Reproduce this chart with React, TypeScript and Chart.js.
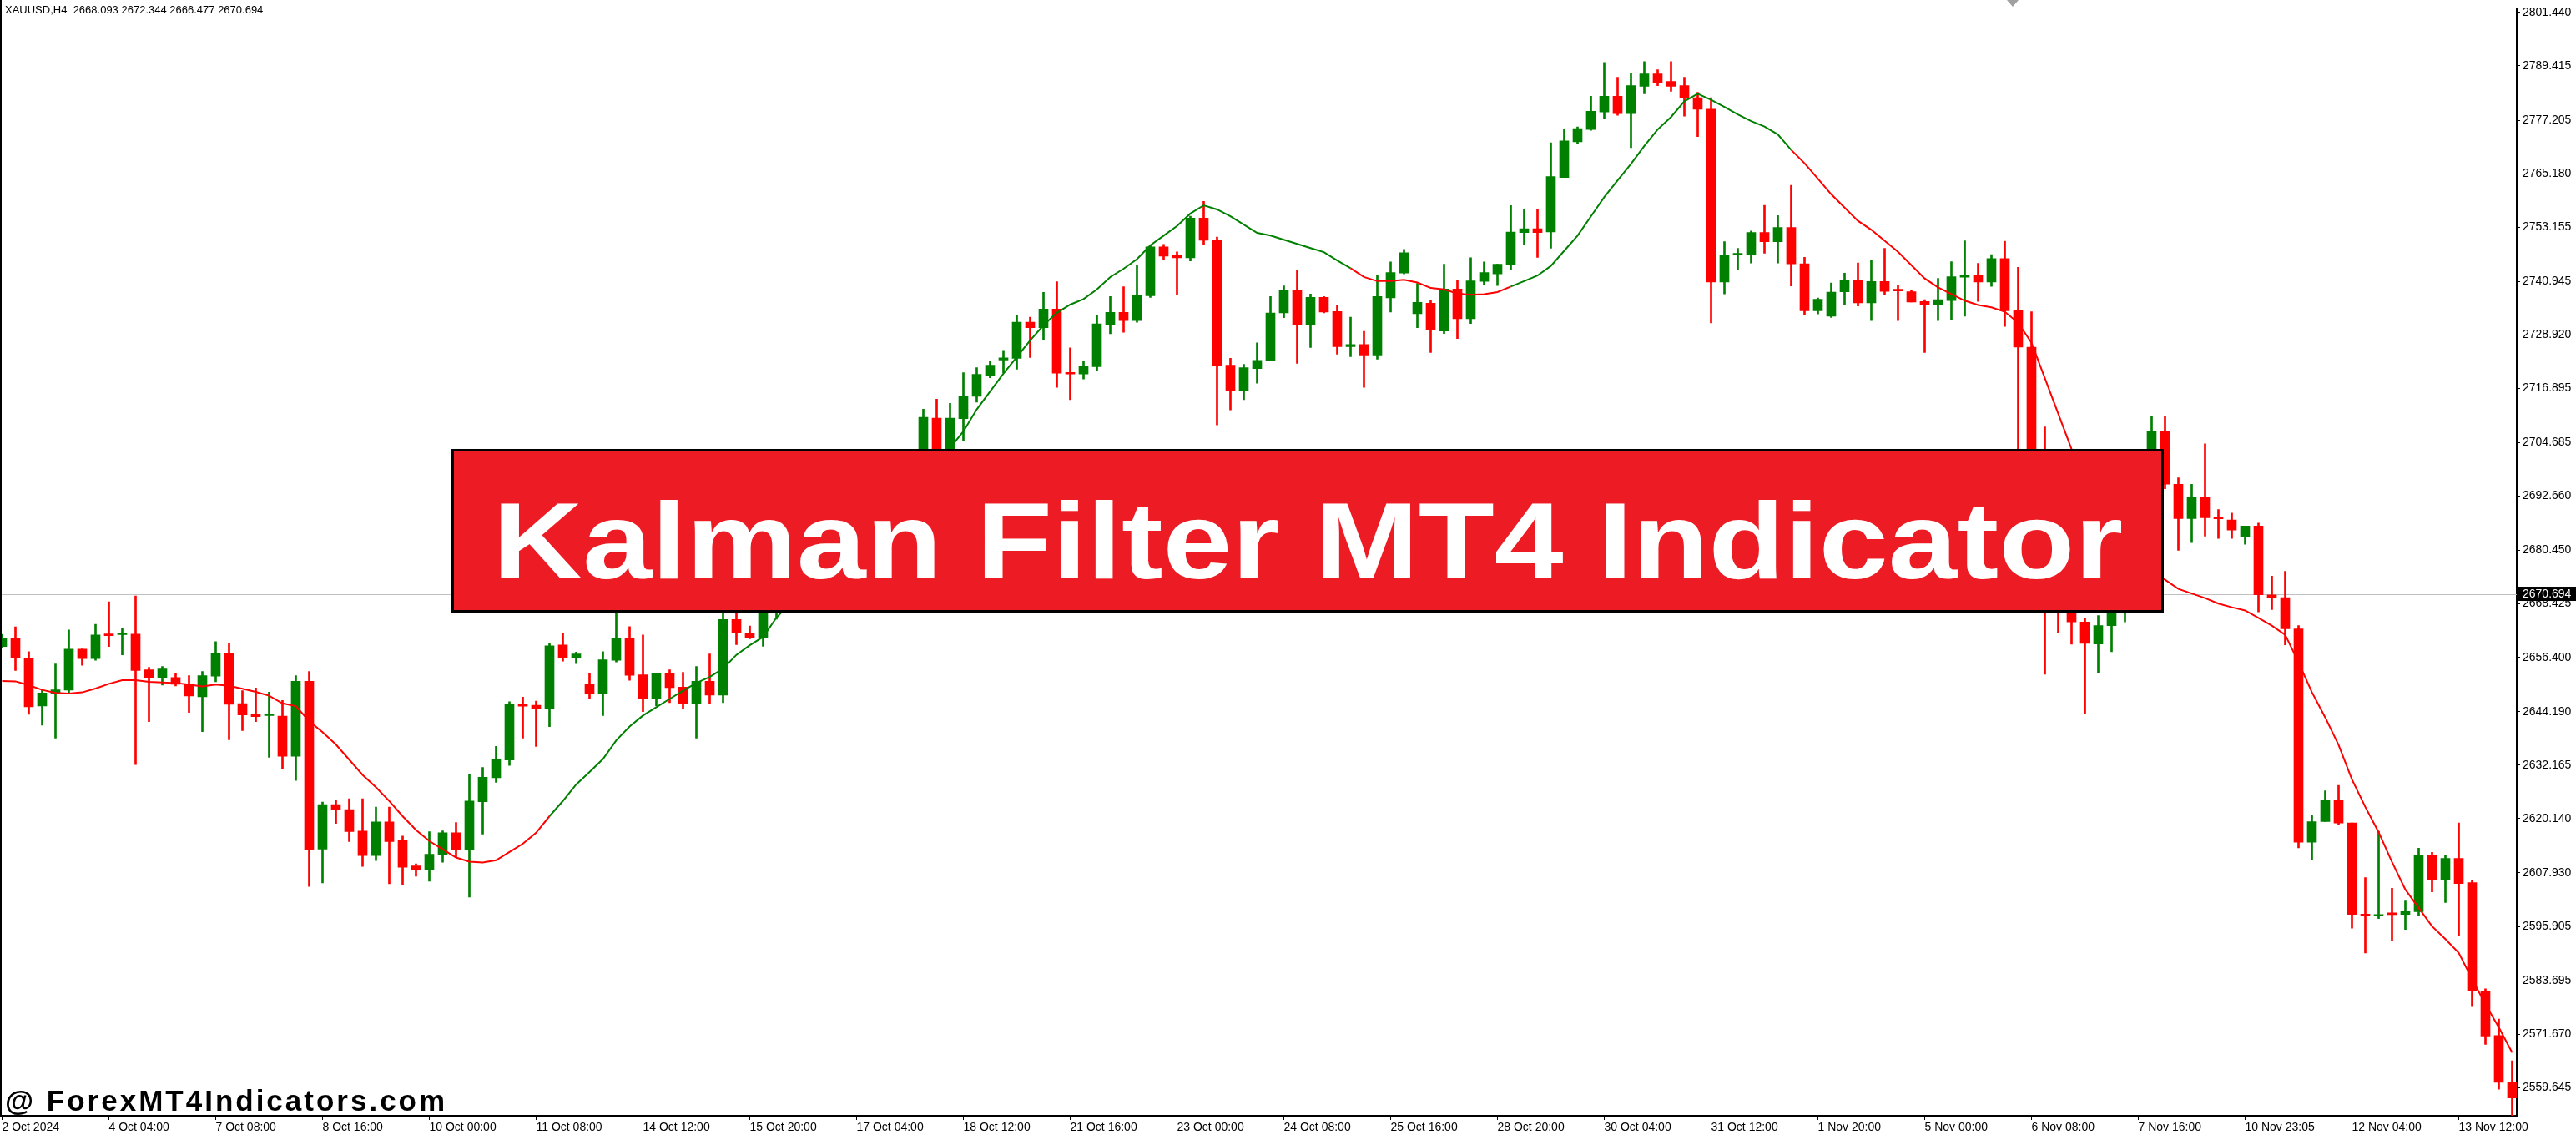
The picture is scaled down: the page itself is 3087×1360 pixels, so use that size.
import React, { useEffect, useRef } from "react";
import { Chart, registerables } from "chart.js";

Chart.register(...registerables);

// ---------- data (XAUUSD, H4) ----------
const opens = [
  2658.83, 2660.69, 2656.22, 2645.49, 2648.28, 2649.03, 2658.27, 2656.10, 2661.5, 2661.5,
  2661.62, 2653.62, 2651.82, 2651.88, 2650.39, 2647.54, 2652.19, 2657.34, 2645.99, 2643.57,
  2643.30, 2643.19, 2634.14, 2651.01, 2613.30, 2623.29, 2622.17, 2617.33, 2611.81, 2619.38,
  2615.28, 2609.51, 2608.65, 2612.0, 2616.96, 2613.24, 2623.91, 2629.31, 2633.34, 2645.81,
  2645.62, 2644.75, 2659.20, 2656.35, 2650.46, 2648.29, 2655.73, 2660.69, 2652.50, 2647.05,
  2652.69, 2649.71, 2645.87, 2651.02, 2647.91, 2664.91, 2661.93, 2660.75, 2667.5, 2670.2,
  2668.8, 2675.4, 2679.6, 2677.1, 2684.4, 2689.2, 2687.6, 2694.9, 2697.0, 2700.5,
  2710.18, 2702.62, 2710.06, 2715.08, 2719.86, 2723.27, 2723.64, 2731.77, 2730.53, 2734.74,
  2720.48, 2720.11, 2721.78, 2731.21, 2734.0, 2732.14, 2737.72, 2748.70, 2746.84, 2746.28,
  2755.21, 2750.19, 2722.09, 2716.38, 2721.35, 2723.03, 2733.88, 2738.85, 2731.28, 2737.36,
  2734.19, 2726.26, 2726.75, 2724.39, 2737.23, 2742.82, 2733.70, 2736.05, 2729.79, 2739.22,
  2732.58, 2740.96, 2742.63, 2744.68, 2751.94, 2752.80, 2752.06, 2764.34, 2772.34, 2775.13,
  2779.04, 2782.58, 2778.67, 2784.81, 2787.60, 2785.92, 2784.99, 2782.28, 2779.69, 2740.81,
  2746.90, 2746.99, 2751.97, 2749.88, 2753.07, 2744.90, 2734.33, 2733.14, 2738.62, 2741.31,
  2736.13, 2740.91, 2738.90, 2738.62, 2736.43, 2735.63, 2736.63, 2741.91, 2742.41, 2740.81,
  2746.09, 2734.43, 2726.16, 2680.0, 2668.0, 2667.0, 2664.36, 2659.41, 2663.54, 2668.5,
  2678.0, 2690.0, 2707.22, 2695.34, 2687.60, 2692.35, 2687.70, 2687.29, 2683.47, 2685.95,
  2670.46, 2669.84, 2662.82, 2614.81, 2619.46, 2624.31, 2619.15, 2598.45, 2598.20, 2598.65,
  2598.60, 2599.22, 2611.92, 2606.45, 2611.20, 2605.73, 2581.26, 2571.35, 2560.82,
];

const highs = [
  2661.6, 2663.29, 2657.71, 2649.2, 2654.92, 2662.55, 2658.3, 2663.85, 2668.9, 2662.92,
  2670.2, 2654.17, 2654.36, 2652.69, 2652.31, 2653.24, 2659.94, 2659.57, 2648.9, 2649.52,
  2648.59, 2646.73, 2652.31, 2653.24, 2623.84, 2624.22, 2624.6, 2624.6, 2622.73, 2622.73,
  2616.21, 2609.95, 2617.21, 2617.40, 2619.26, 2630.17, 2631.66, 2636.38, 2646.43, 2647.48,
  2646.55, 2659.58, 2661.81, 2657.59, 2652.88, 2657.71, 2668.0, 2663.30, 2661.44, 2652.88,
  2653.62, 2653.06, 2654.37, 2657.16, 2667.5, 2666.5, 2663.48, 2669.0, 2672.0, 2674.0,
  2676.5, 2681.0, 2682.0, 2685.3, 2690.5, 2693.0, 2695.8, 2699.0, 2700.8, 2712.23,
  2714.46, 2713.53, 2720.42, 2721.53, 2723.02, 2725.44, 2733.26, 2732.88, 2738.47, 2740.89,
  2726.00, 2723.02, 2733.44, 2737.54, 2739.77, 2744.61, 2749.07, 2749.26, 2747.58, 2755.59,
  2758.94, 2750.93, 2723.64, 2722.28, 2727.12, 2737.54, 2739.96, 2743.50, 2738.10, 2737.54,
  2735.50, 2732.89, 2729.73, 2742.38, 2745.36, 2748.15, 2740.52, 2736.61, 2744.80, 2741.26,
  2746.29, 2745.36, 2744.80, 2758.01, 2757.27, 2757.08, 2772.15, 2775.13, 2775.69, 2782.58,
  2790.20, 2786.85, 2787.78, 2790.39, 2788.53, 2790.39, 2786.85, 2783.47, 2782.28, 2749.88,
  2748.39, 2752.27, 2758.06, 2755.76, 2762.54, 2746.39, 2737.22, 2740.61, 2742.80, 2745.10,
  2745.60, 2748.39, 2740.11, 2738.92, 2736.83, 2741.61, 2745.40, 2750.08, 2745.00, 2746.99,
  2749.98, 2744.10, 2734.13, 2708.22, 2672.0, 2670.0, 2665.2, 2665.8, 2669.5, 2680.0,
  2692.0, 2710.73, 2710.73, 2696.79, 2695.34, 2704.43, 2689.66, 2688.84, 2685.95, 2686.57,
  2674.69, 2675.73, 2663.54, 2621.0, 2626.37, 2627.61, 2619.15, 2606.86, 2617.29, 2604.49,
  2601.60, 2613.47, 2612.54, 2611.92, 2619.15, 2606.35, 2581.88, 2575.06, 2565.67,
];

const lows = [
  2658.5, 2653.43, 2643.57, 2641.15, 2638.23, 2648.28, 2654.61, 2655.73, 2658.83, 2656.97,
  2632.28, 2641.95, 2650.14, 2649.96, 2644.0, 2639.72, 2650.89, 2637.86, 2639.91, 2641.95,
  2633.95, 2631.35, 2628.74, 2604.86, 2605.67, 2619.07, 2614.97, 2609.39, 2610.69, 2605.48,
  2605.30, 2607.16, 2606.04, 2610.33, 2611.38, 2602.51, 2616.65, 2628.31, 2632.10, 2638.24,
  2636.38, 2640.84, 2655.54, 2654.99, 2647.17, 2643.32, 2655.36, 2651.26, 2644.19, 2645.50,
  2646.24, 2644.75, 2638.24, 2645.87, 2646.24, 2659.27, 2660.57, 2658.89, 2665.0, 2667.5,
  2668.0, 2674.0, 2675.6, 2676.2, 2683.0, 2686.4, 2686.9, 2692.5, 2695.5, 2699.0,
  2700.9, 2701.2, 2705.22, 2713.78, 2719.30, 2720.42, 2721.22, 2723.83, 2727.92, 2717.13,
  2714.34, 2718.99, 2720.85, 2729.16, 2729.53, 2731.77, 2737.35, 2745.91, 2737.91, 2745.54,
  2749.26, 2708.69, 2712.04, 2714.34, 2718.06, 2723.03, 2732.77, 2722.53, 2726.07, 2733.88,
  2724.58, 2724.02, 2717.14, 2723.46, 2734.07, 2742.63, 2730.53, 2724.95, 2729.23, 2728.12,
  2731.46, 2740.21, 2740.03, 2743.56, 2749.14, 2746.35, 2748.40, 2764.34, 2771.97, 2774.95,
  2777.55, 2778.29, 2771.04, 2783.13, 2784.99, 2783.69, 2778.11, 2773.51, 2731.64, 2738.12,
  2743.60, 2745.10, 2747.29, 2745.10, 2739.91, 2733.34, 2733.63, 2732.84, 2735.63, 2735.43,
  2732.14, 2738.02, 2732.14, 2736.33, 2724.96, 2732.14, 2732.44, 2733.14, 2736.43, 2739.81,
  2730.84, 2690.0, 2676.0, 2652.6, 2661.86, 2659.37, 2643.62, 2652.91, 2657.66, 2664.37,
  2675.0, 2688.0, 2694.31, 2680.48, 2682.23, 2683.68, 2683.16, 2683.16, 2681.82, 2666.64,
  2667.16, 2659.21, 2613.57, 2610.78, 2619.46, 2618.84, 2595.51, 2589.93, 2597.67, 2592.72,
  2595.20, 2598.29, 2603.66, 2601.29, 2593.85, 2577.85, 2569.38, 2559.26, 2552.0,
];

const closes = [
  2660.69, 2656.28, 2645.30, 2648.41, 2649.09, 2658.27, 2656.10, 2661.43, 2661.3, 2661.6,
  2653.43, 2651.82, 2653.80, 2650.33, 2647.72, 2652.31, 2657.34, 2645.86, 2643.44, 2643.07,
  2643.33, 2634.14, 2651.01, 2613.11, 2623.29, 2622.04, 2617.21, 2611.81, 2619.38, 2614.97,
  2609.20, 2608.65, 2612.12, 2616.96, 2613.12, 2624.10, 2629.43, 2633.52, 2645.81, 2645.43,
  2644.94, 2659.02, 2656.35, 2657.16, 2648.29, 2655.85, 2660.69, 2652.38, 2647.05, 2652.69,
  2649.59, 2645.87, 2651.02, 2647.91, 2664.91, 2661.87, 2660.75, 2667.5, 2670.2, 2668.8,
  2675.4, 2679.6, 2677.1, 2684.4, 2689.2, 2687.6, 2694.9, 2697.0, 2700.2, 2710.37,
  2702.43, 2710.18, 2715.21, 2720.04, 2722.09, 2723.77, 2731.77, 2730.53, 2734.74, 2720.29,
  2720.11, 2721.91, 2731.40, 2734.0, 2732.14, 2737.91, 2748.70, 2746.65, 2746.28, 2755.21,
  2750.19, 2721.97, 2716.38, 2721.53, 2723.21, 2733.82, 2738.85, 2731.28, 2737.36, 2734.07,
  2726.26, 2726.75, 2724.39, 2737.54, 2742.94, 2747.41, 2736.24, 2729.98, 2739.22, 2732.58,
  2741.08, 2742.94, 2744.80, 2752.06, 2752.80, 2751.94, 2764.53, 2772.53, 2775.32, 2779.23,
  2782.58, 2778.67, 2784.99, 2787.60, 2785.74, 2784.81, 2782.20, 2779.69, 2740.81, 2746.79,
  2747.00, 2751.97, 2749.88, 2753.07, 2744.90, 2734.33, 2736.92, 2738.52, 2741.31, 2736.13,
  2740.91, 2738.72, 2738.80, 2736.33, 2735.63, 2736.83, 2742.01, 2742.41, 2740.81, 2746.09,
  2734.33, 2726.16, 2680.0, 2668.0, 2666.5, 2664.36, 2659.57, 2663.54, 2668.5, 2678.0,
  2690.0, 2707.22, 2695.34, 2687.60, 2692.35, 2687.81, 2687.55, 2685.02, 2685.95, 2670.46,
  2669.94, 2662.82, 2614.81, 2619.46, 2624.31, 2619.15, 2598.60, 2598.29, 2598.45, 2598.55,
  2599.22, 2611.92, 2606.45, 2611.20, 2605.52, 2581.36, 2571.24, 2560.82, 2557.30,
];

const kalman = [
  2651.07, 2651.01, 2650.14, 2649.09, 2648.40, 2648.28, 2648.53, 2649.40, 2650.45, 2651.26,
  2651.26, 2650.89, 2650.76, 2650.64, 2650.27, 2649.89, 2650.27, 2650.02, 2649.34, 2648.65,
  2647.78, 2646.05, 2645.43, 2642.08, 2639.60, 2636.81, 2633.40, 2629.98, 2627.19, 2624.09,
  2620.68, 2617.58, 2615.10, 2613.24, 2611.38, 2610.45, 2610.26, 2610.76, 2612.62, 2614.48,
  2616.96, 2620.68, 2624.10, 2627.82, 2630.61, 2633.52, 2637.74, 2640.84, 2643.32, 2645.18,
  2647.05, 2648.91, 2650.64, 2652.01, 2653.87, 2656.97, 2659.14, 2661.00, 2665.34, 2668.5,
  2671.6, 2674.5, 2677.3, 2680.0, 2682.8, 2685.6, 2688.5, 2691.4, 2694.3, 2697.2,
  2700.0, 2703.5, 2707.21, 2712.17, 2716.20, 2720.23, 2723.95, 2727.67, 2731.09, 2733.88,
  2735.74, 2736.98, 2739.15, 2741.94, 2743.80, 2745.97, 2749.07, 2751.24, 2753.41, 2756.21,
  2758.07, 2757.14, 2755.59, 2753.72, 2751.87, 2751.25, 2750.32, 2749.39, 2748.46, 2747.53,
  2745.67, 2743.93, 2741.95, 2741.02, 2741.02, 2741.33, 2740.71, 2739.47, 2739.16, 2738.23,
  2737.92, 2738.10, 2738.54, 2739.78, 2741.02, 2742.26, 2744.43, 2747.84, 2751.25, 2755.59,
  2759.93, 2763.66, 2767.38, 2771.41, 2775.13, 2777.92, 2781.48, 2783.17, 2781.78, 2780.18,
  2778.49, 2776.99, 2775.80, 2774.00, 2770.52, 2767.53, 2764.04, 2760.55, 2757.56, 2754.57,
  2752.57, 2750.08, 2747.59, 2744.60, 2741.61, 2739.61, 2738.12, 2736.62, 2735.63, 2735.13,
  2734.13, 2731.64, 2727.15, 2719.18, 2711.20, 2703.23, 2696.5, 2690.5, 2685.5, 2681.5,
  2678.3, 2675.8, 2673.87, 2671.80, 2670.77, 2669.74, 2668.50, 2667.67, 2666.95, 2665.30,
  2663.54, 2661.48, 2655.28, 2648.57, 2642.89, 2636.70, 2628.96, 2622.76, 2617.08, 2610.37,
  2604.18, 2600.05, 2595.92, 2593.03, 2589.93, 2584.05, 2578.37, 2573.20, 2567.53,
];

// bar index where the Kalman colour state starts, and its direction
const trendStarts = [0, 42, 102, 114, 135];
const trendDirs = ["down", "up", "down", "up", "down"];

const xTickIndex = [
  0, 8, 16, 24, 32, 40, 48, 56, 64, 72, 80, 88, 96, 104, 112, 120, 128, 136, 144, 152, 160,
  168, 176, 184,
];
const xTickLabels = [
  "2 Oct 2024", "4 Oct 04:00", "7 Oct 08:00", "8 Oct 16:00", "10 Oct 00:00", "11 Oct 08:00",
  "14 Oct 12:00", "15 Oct 20:00", "17 Oct 04:00", "18 Oct 12:00", "21 Oct 16:00",
  "23 Oct 00:00", "24 Oct 08:00", "25 Oct 16:00", "28 Oct 20:00", "30 Oct 04:00",
  "31 Oct 12:00", "1 Nov 20:00", "5 Nov 00:00", "6 Nov 08:00", "7 Nov 16:00",
  "10 Nov 23:05", "12 Nov 04:00", "13 Nov 12:00",
];
const yTickValues = [
  2801.44, 2789.415, 2777.205, 2765.18, 2753.155, 2740.945, 2728.92, 2716.895, 2704.685,
  2692.66, 2680.45, 2668.425, 2656.4, 2644.19, 2632.165, 2620.14, 2607.93, 2595.905,
  2583.695, 2571.67, 2559.645,
];
const currentPrice = 2670.694;
const headerText = "XAUUSD,H4  2668.093 2672.344 2666.477 2670.694";
const bannerTitle = "Kalman Filter MT4 Indicator";
const watermark = "@ ForexMT4Indicators.com";
const priceMin = 2553.3;
const priceMax = 2802.1;

// ---------- styling ----------
const GREEN = "#008000";
const RED = "#ff0000";
const W = 3087;
const H = 1360;
const AXIS_W = 71;
const AXIS_H = 23;
const BAR_STEP = 16; // px per bar
const FIRST_BAR_PX = 2.5;
const TICK_FONT = { family: "'Liberation Sans', Arial, sans-serif", size: 14 };

function trendUp(i: number): boolean {
  let dir = trendDirs[0];
  for (let k = 0; k < trendStarts.length; k++) {
    if (i >= trendStarts[k]) dir = trendDirs[k];
  }
  return dir === "up";
}

const extrasPlugin = {
  id: "mt4Extras",
  beforeDatasetsDraw(chart: any) {
    const { ctx, chartArea } = chart;
    const y = Math.round(chart.scales.y.getPixelForValue(currentPrice)) + 0.5;
    ctx.save();
    ctx.strokeStyle = "#c0c0c0";
    ctx.lineWidth = 1;
    ctx.beginPath();
    ctx.moveTo(chartArea.left, y);
    ctx.lineTo(chartArea.right, y);
    ctx.stroke();
    ctx.restore();
  },
  afterDraw(chart: any) {
    const { ctx, chartArea } = chart;
    ctx.save();
    ctx.fillStyle = "#000";
    ctx.fillRect(0, 0, 2, chartArea.bottom);
    const y = chart.scales.y.getPixelForValue(currentPrice);
    ctx.fillStyle = "#000";
    ctx.fillRect(chartArea.right, y - 8.5, W - chartArea.right, 17);
    ctx.fillStyle = "#fff";
    ctx.font = `${TICK_FONT.size}px ${TICK_FONT.family}`;
    ctx.textBaseline = "middle";
    ctx.textAlign = "left";
    ctx.fillText(currentPrice.toFixed(3), chartArea.right + 7, y + 0.5);
    ctx.fillStyle = "#a0a0a0";
    ctx.beginPath();
    ctx.moveTo(2405, 0);
    ctx.lineTo(2419, 0);
    ctx.lineTo(2412, 8);
    ctx.closePath();
    ctx.fill();
    ctx.restore();
  },
};

export default function App() {
  const canvasRef = useRef<HTMLCanvasElement | null>(null);

  useEffect(() => {
    document.body.style.margin = "0";
    const canvas = canvasRef.current;
    if (!canvas) return;
    const idx = opens.map((_, i) => i);
    const candleColors = idx.map((i) => (closes[i] >= opens[i] ? GREEN : RED));
    const bodies = idx.map((i) => ({ x: i, y: [opens[i], closes[i]] }));
    const wicks = idx.map((i) => ({ x: i, y: [lows[i], highs[i]] }));
    const line = idx.map((i) => ({ x: i, y: kalman[i] }));
    const xMin = -FIRST_BAR_PX / BAR_STEP;
    const xMax = xMin + (W - AXIS_W) / BAR_STEP;

    const chart = new Chart(canvas, {
      type: "bar",
      data: {
        datasets: [
          {
            type: "line",
            data: line,
            borderWidth: 2,
            pointRadius: 0,
            tension: 0,
            borderColor: GREEN,
            segment: {
              borderColor: (c: any) => (trendUp(c.p1DataIndex) ? GREEN : RED),
            },
            order: 0,
          } as any,
          {
            type: "bar",
            data: bodies,
            backgroundColor: candleColors,
            borderWidth: 0,
            barThickness: 11,
            minBarLength: 2,
            grouped: false,
            order: 1,
          } as any,
          {
            type: "bar",
            data: wicks,
            backgroundColor: candleColors,
            borderWidth: 0,
            barThickness: 2,
            grouped: false,
            order: 2,
          } as any,
        ],
      },
      options: {
        animation: false,
        responsive: true,
        maintainAspectRatio: false,
        devicePixelRatio: 1,
        events: [],
        layout: { padding: 0 },
        plugins: { legend: { display: false }, tooltip: { enabled: false } },
        scales: {
          x: {
            type: "linear",
            min: xMin,
            max: xMax,
            offset: false,
            grid: {
              offset: false,
              drawOnChartArea: false,
              drawTicks: true,
              tickLength: 5,
              color: "#000",
            },
            border: { display: true, color: "#000", width: 2 },
            afterBuildTicks: (scale: any) => {
              scale.ticks = xTickIndex.map((v) => ({ value: v }));
            },
            afterFit: (scale: any) => {
              scale.height = AXIS_H;
            },
            ticks: {
              autoSkip: false,
              maxRotation: 0,
              minRotation: 0,
              align: "start",
              padding: 1,
              color: "#000",
              font: TICK_FONT,
              callback: (v: any) => {
                const k = xTickIndex.indexOf(Number(v));
                return k >= 0 ? xTickLabels[k] : "";
              },
            },
          },
          y: {
            type: "linear",
            position: "right",
            min: priceMin,
            max: priceMax,
            grid: {
              drawOnChartArea: false,
              drawTicks: true,
              tickLength: 4,
              color: "#000",
            },
            border: { display: true, color: "#000", width: 2 },
            afterBuildTicks: (scale: any) => {
              scale.ticks = yTickValues.map((v) => ({ value: v }));
            },
            afterFit: (scale: any) => {
              scale.width = AXIS_W;
            },
            ticks: {
              autoSkip: false,
              padding: 3,
              color: "#000",
              font: TICK_FONT,
              callback: (v: any) => Number(v).toFixed(3),
            },
          },
        },
      } as any,
      plugins: [extrasPlugin],
    });
    return () => chart.destroy();
  }, []);

  return (
    <div
      style={{
        position: "absolute",
        left: 0,
        top: 0,
        width: W,
        height: H,
        background: "#fff",
        overflow: "hidden",
      }}
    >
      <canvas ref={canvasRef} />
      <div
        style={{
          position: "absolute",
          left: 6,
          top: 4,
          font: "13px 'Liberation Sans', Arial, sans-serif",
          lineHeight: "15px",
          whiteSpace: "pre",
          color: "#000",
        }}
      >
        {headerText}
      </div>
      <div
        style={{
          position: "absolute",
          left: 541,
          top: 538,
          width: 2052,
          height: 196,
          boxSizing: "border-box",
          border: "3px solid #000",
          background: "#ed1c24",
        }}
      />
      <div
        style={{
          position: "absolute",
          left: 541,
          top: 583,
          width: 2052,
          textAlign: "center",
          color: "#fff",
          font: "bold 130px 'Liberation Sans', Arial, sans-serif",
          lineHeight: "130px",
          whiteSpace: "pre",
        }}
      >
        <span style={{ display: "inline-block", transform: "scaleX(1.146)" }}>{bannerTitle}</span>
      </div>
      <div
        style={{
          position: "absolute",
          left: 6,
          top: 1301,
          color: "#000",
          font: "bold 35px 'Liberation Sans', Arial, sans-serif",
          lineHeight: "35px",
          letterSpacing: "3px",
          whiteSpace: "pre",
        }}
      >
        {watermark}
      </div>
    </div>
  );
}
